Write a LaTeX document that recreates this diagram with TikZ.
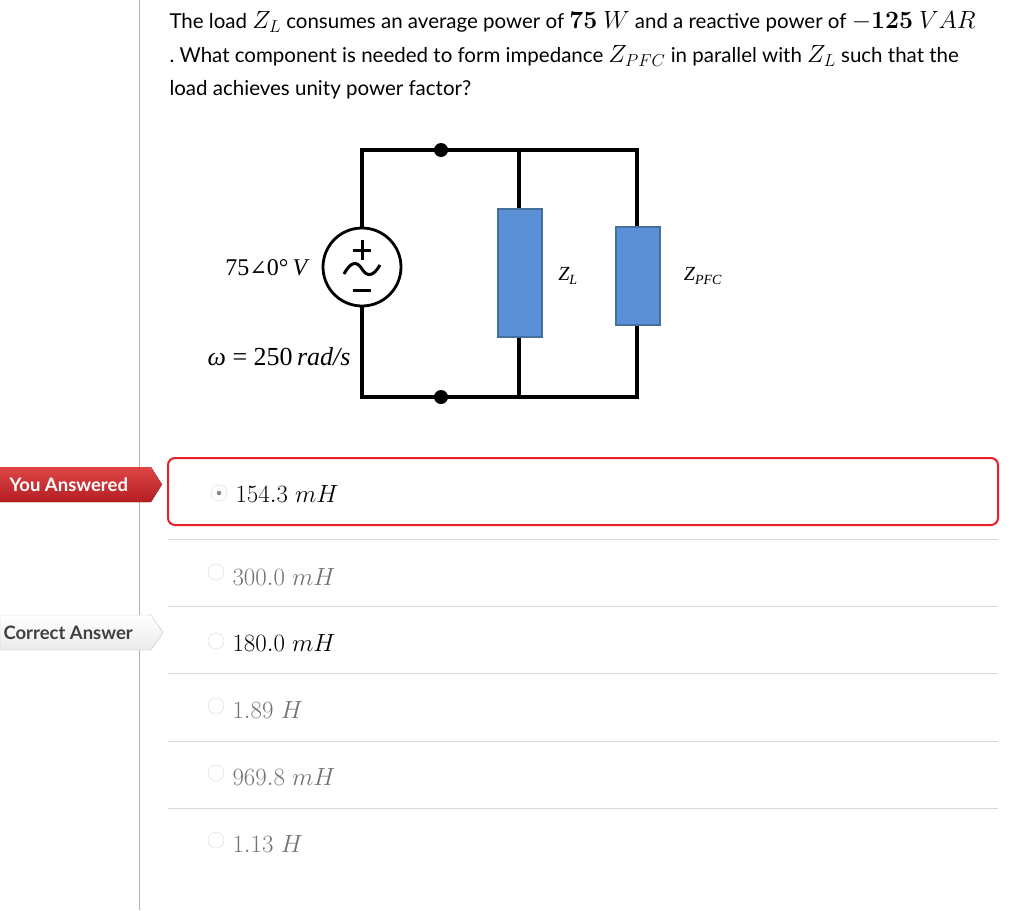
\documentclass[tikz,border=0pt]{standalone}
\usepackage[no-math]{fontspec}
\setmainfont{Lato}
\newfontfamily\lm{Latin Modern Roman}
\newfontfamily\cam{Liberation Serif}
\newfontfamily\dv{DejaVu Serif}
\newcommand\qm[1]{{\fontsize{23}{24}\selectfont$#1$}}
\begin{document}
\begin{tikzpicture}[x=1pt,y=-1pt,
  wire/.style={line width=3.2pt},
  comp/.style={draw={rgb,255:red,65;green,113;blue,156}, line width=2pt, fill={rgb,255:red,91;green,143;blue,214}},
  dot/.style={circle,fill=black,inner sep=0,minimum size=14pt},
  opt/.style={anchor=west,font=\lm\fontsize{24}{27}\selectfont},
  radio/.style={circle,draw=black!15,fill=white,minimum size=16pt,inner sep=0},
  sep/.style={draw=black!15,line width=0.8pt},
  qtext/.style={anchor=west,font=\fontsize{20.5}{24}\selectfont}]
\useasboundingbox (0,0) rectangle (1024,910);
\draw[draw=black!30,line width=1pt] (139,0) -- (139,910);
% question
\node[qtext] (q1) at (166,22) {The load \qm{Z_L} consumes an average power of \qm{\mathbf{75}\ W} and a reactive power of \qm{-\mathbf{125}\ VAR}};
\node[qtext] (q2) at (166,56) {.\ What component is needed to form impedance \qm{Z_{PFC}} in parallel with \qm{Z_L} such that the};
\node[qtext] (q3) at (166,90) {load achieves unity power factor?};
% circuit
\coordinate (tl) at (362,150); \coordinate (bl) at (362,397);
\coordinate (tr) at (637,150); \coordinate (br) at (637,397);
\coordinate (tm) at (519,150); \coordinate (bm) at (519,397);
\node[circle,draw,line width=2.8pt,minimum size=78pt,inner sep=0] (src) at (362,267) {};
\draw[wire] (src.north) -- (tl) -- (tr) -- (br) -- (bl) -- (src.south);
\draw[wire] (tm) -- (bm);
\node[comp,minimum width=44pt,minimum height=128pt,inner sep=0] (zl) at (520,273) {};
\node[comp,minimum width=44pt,minimum height=98pt,inner sep=0] (zp) at (638,276) {};
\node[dot] (d1) at (441,150) {};
\node[dot] (d2) at (441,397) {};
\draw[line width=3pt] (362,240) -- (362,260) (353,250) -- (371,250) (353,290) -- (371,290);
\draw[line width=3pt] (344,274) .. controls (351,261) and (357,261) .. (362,269) .. controls (367,277) and (373,277) .. (380,265);
\node[anchor=east,font=\cam\fontsize{24}{27}\selectfont] (vl) at (313,268) {75{\dv\fontsize{21}{24}\selectfont ∠}0°\,\textit{V}};
\node[anchor=east,font=\cam\fontsize{26}{29}\selectfont] (wl) at (354,357) {\textit{ω} = 250\,\textit{rad/s}};
\node[font=\cam\fontsize{20}{22}\selectfont] (zll) at (568,276) {\textit{Z\textsubscript{L}}};
\node[font=\cam\fontsize{20}{22}\selectfont] (zpl) at (703,276) {\textit{Z\textsubscript{PFC}}};
% tags
\fill[top color={rgb,255:red,222;green,70;blue,70},bottom color={rgb,255:red,180;green,30;blue,35}] (0,467) -- (151,467) -- (162,484.5) -- (151,502) -- (0,502) -- cycle;
\node[anchor=west,text=white,font=\fontsize{18.5}{20}\selectfont\bfseries] (ya) at (6,485) {You Answered};
\draw[draw=black!25,top color=white,bottom color=black!8] (0,615) -- (151,615) -- (163,632.5) -- (151,650) -- (0,650) -- cycle;
\node[anchor=west,text=black!75,font=\fontsize{18.5}{20}\selectfont\bfseries] (ca) at (0,633) {Correct Answer};
% options
\draw[draw={rgb,255:red,235;green,30;blue,40},line width=2pt,rounded corners=7pt] (168,458) rectangle (998,525);
\foreach \yy in {539,606,673,741,808} \draw[sep] (168,\yy) -- (998,\yy);
\node[radio] (r1) at (219,493) {}; \fill[black!45] (r1) circle (2.3pt);
\node[opt] (o1) at (232,494) {$154.3\ mH$};
\node[radio] (r2) at (216,572) {}; \node[opt,text=black!55] (o2) at (229,577) {$300.0\ mH$};
\node[radio] (r3) at (216,641) {}; \node[opt] (o3) at (229,643) {$180.0\ mH$};
\node[radio] (r4) at (216,706) {}; \node[opt,text=black!55] (o4) at (229,710) {$1.89\ H$};
\node[radio] (r5) at (216,773) {}; \node[opt,text=black!55] (o5) at (229,777) {$969.8\ mH$};
\node[radio] (r6) at (216,840) {}; \node[opt,text=black!55] (o6) at (229,844) {$1.13\ H$};
\end{tikzpicture}
\end{document}
